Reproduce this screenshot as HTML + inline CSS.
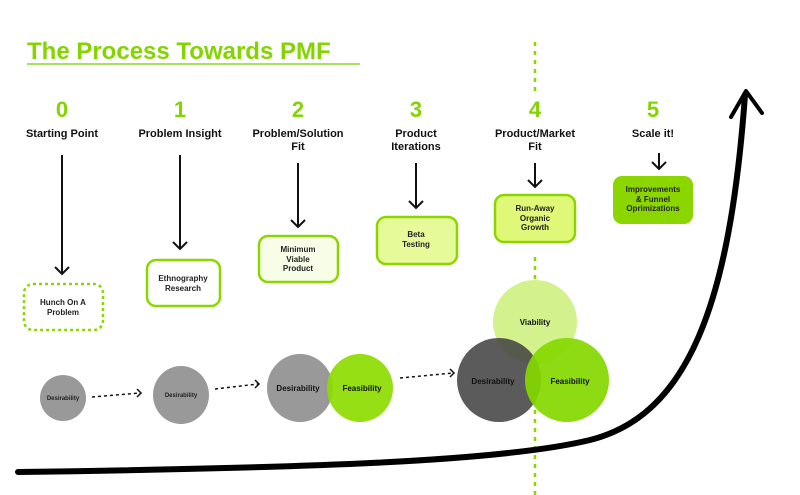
<!DOCTYPE html>
<html><head><meta charset="utf-8"><style>
body{margin:0;background:#fff}
svg{display:block}
text{font-family:"Liberation Sans",sans-serif;font-weight:bold}
</style></head><body>
<svg width="800" height="495" viewBox="0 0 800 495" xmlns="http://www.w3.org/2000/svg">
<text x="27" y="59" font-size="24" fill="#84d400" font-weight="bold">The Process Towards PMF</text>
<line x1="27" y1="64" x2="360" y2="64" stroke="#a8e060" stroke-width="2"/>
<line x1="535" y1="42" x2="535" y2="92" stroke="#8cd600" stroke-width="2.5" stroke-dasharray="4,5"/>
<line x1="535" y1="257" x2="535" y2="495" stroke="#8cd600" stroke-width="2.5" stroke-dasharray="4,5"/>
<g font-size="22" fill="#84d400" text-anchor="middle">
<text x="62" y="117">0</text><text x="180" y="117">1</text><text x="298" y="117">2</text><text x="416" y="117">3</text><text x="535" y="117">4</text><text x="653" y="117">5</text>
</g>
<g font-size="11" fill="#111" text-anchor="middle" font-weight="normal">
<text x="62" y="137">Starting Point</text>
<text x="180" y="137">Problem Insight</text>
<text x="298" y="137">Problem/Solution</text><text x="298" y="150">Fit</text>
<text x="416" y="137">Product</text><text x="416" y="150">Iterations</text>
<text x="535" y="137">Product/Market</text><text x="535" y="150">Fit</text>
<text x="653" y="137">Scale it!</text>
</g>
<g stroke="#111" stroke-width="2" fill="none">
<path d="M62 155V274M55 267L62 274L69 267"/>
<path d="M180 155V249M173 242L180 249L187 242"/>
<path d="M298 163V227M291 220L298 227L305 220"/>
<path d="M416 163V208M409 201L416 208L423 201"/>
<path d="M535 163V187M528 180L535 187L542 180"/>
<path d="M659 153V169M652 162L659 169L666 162"/>
</g>
<rect x="24" y="284" width="79" height="46" rx="9" fill="#fff" stroke="#8cd600" stroke-width="2.5" stroke-dasharray="3,3"/>
<rect x="147" y="260" width="73" height="46" rx="9" fill="#fff" stroke="#8cd600" stroke-width="2.5"/>
<rect x="259" y="236" width="79" height="46" rx="9" fill="#f8fde8" stroke="#8cd600" stroke-width="2.5"/>
<rect x="377" y="217" width="80" height="47" rx="9" fill="#e6fa9a" stroke="#8cd600" stroke-width="2.5"/>
<rect x="495" y="195" width="80" height="47" rx="9" fill="#e0f877" stroke="#8cd600" stroke-width="2.5"/>
<rect x="613" y="176" width="80" height="48" rx="9" fill="#8cd600"/>
<g font-size="8" fill="#222" text-anchor="middle">
<text x="63" y="305">Hunch On A</text><text x="63" y="315">Problem</text>
<text x="183" y="281">Ethnography</text><text x="183" y="291">Research</text>
<text x="298" y="252">Minimum</text><text x="298" y="262">Viable</text><text x="298" y="271">Product</text>
<text x="416" y="237">Beta</text><text x="416" y="247">Testing</text>
<text x="535" y="211">Run-Away</text><text x="535" y="221">Organic</text><text x="535" y="230">Growth</text>
<text x="653" y="192">Improvements</text><text x="653" y="202">&amp; Funnel</text><text x="653" y="211">Oprimizations</text>
</g>
<ellipse cx="63" cy="398" rx="23" ry="23" fill="#999"/>
<ellipse cx="181" cy="395" rx="28" ry="29" fill="#999"/>
<ellipse cx="300" cy="388" rx="33" ry="34" fill="#999"/>
<ellipse cx="360" cy="388" rx="33" ry="34" fill="#8cdc00" opacity="0.92"/>
<circle cx="535" cy="322" r="42" fill="#d3f28e"/>
<circle cx="499" cy="380" r="42" fill="#444" opacity="0.88"/>
<circle cx="567" cy="380" r="42" fill="#84d800" opacity="0.92"/>
<g font-size="6" fill="#222" text-anchor="middle">
<text x="63" y="400">Desirability</text>
<text x="181" y="397">Desirability</text>
</g>
<g font-size="8" fill="#111" text-anchor="middle">
<text x="298" y="391">Desirability</text>
<text x="362" y="391">Feasibility</text>
<text x="535" y="325">Viability</text>
<text x="493" y="384">Desirability</text>
<text x="570" y="384">Feasibility</text>
</g>
<g stroke="#111" stroke-width="1.5" fill="none">
<path d="M92 397L140 393" stroke-dasharray="3,3"/><path d="M137 389L141 393L137 397"/>
<path d="M215 389L258 384" stroke-dasharray="3,3"/><path d="M255 380L259 384L255 388"/>
<path d="M400 378L453 373" stroke-dasharray="3,3"/><path d="M450 369L454 373L450 377"/>
</g>
<path d="M18 472 C 300 468, 500 462, 590 440 C 690 415, 730 300, 745 95" stroke="#000" stroke-width="6" fill="none" stroke-linecap="round"/>
<path d="M731 117L746 91L762 113" stroke="#000" stroke-width="4" fill="none" stroke-linecap="round" stroke-linejoin="round"/>
</svg>
</body></html>
